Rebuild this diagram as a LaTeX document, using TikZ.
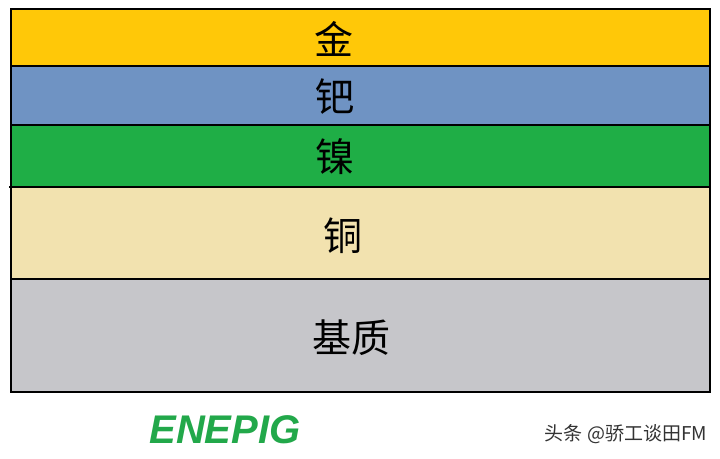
\documentclass[tikz,border=0pt]{standalone}
\usepackage{fontspec}
\setmainfont{Liberation Sans}
\newfontfamily\cjk{Noto Sans CJK SC}
\definecolor{gold}{HTML}{FFC808}
\definecolor{pdblue}{HTML}{6F93C3}
\definecolor{nigreen}{HTML}{1FAE46}
\definecolor{cubeige}{HTML}{F2E2AF}
\definecolor{subgray}{HTML}{C6C6CA}
\definecolor{enegreen}{HTML}{22A84A}
\begin{document}
\begin{tikzpicture}[x=1pt,y=-1pt,
  layer/.style={draw=black, line width=1.3pt},
  lbl/.style={font=\cjk\fontsize{39}{42}\selectfont, text=black, inner sep=0pt}]
\useasboundingbox[fill=white] (0,0) rectangle (720,458);
\fill[gold] (11,9) rectangle (710,66);
\fill[pdblue] (11,66) rectangle (710,125);
\fill[nigreen] (11,125) rectangle (710,187);
\fill[cubeige] (11,187) rectangle (710,279);
\fill[subgray] (11,279) rectangle (710,392);
\draw[layer] (11,66) -- (710,66);
\draw[layer] (11,125) -- (710,125);
\draw[layer] (9,187) -- (710,187);
\draw[layer] (11,279) -- (710,279);
\draw[layer] (11,9) rectangle (710,392);
\node[lbl] (au) at (334,39) {金};
\node[lbl] (pd) at (335,97) {钯};
\node[lbl] (ni) at (335,157) {镍};
\node[lbl] (cu) at (343,236) {铜};
\node[lbl] (sub) at (351,338) {基质};
\node[font=\bfseries\itshape\fontsize{40}{44}\selectfont, text=enegreen, inner sep=0pt] (ene) at (225,430) {ENEPIG};
\node[font=\cjk\fontsize{19}{21}\selectfont, text=black!80, inner sep=0pt] (wm) at (626,434) {头条 @骄工谈田FM};
\end{tikzpicture}
\end{document}
